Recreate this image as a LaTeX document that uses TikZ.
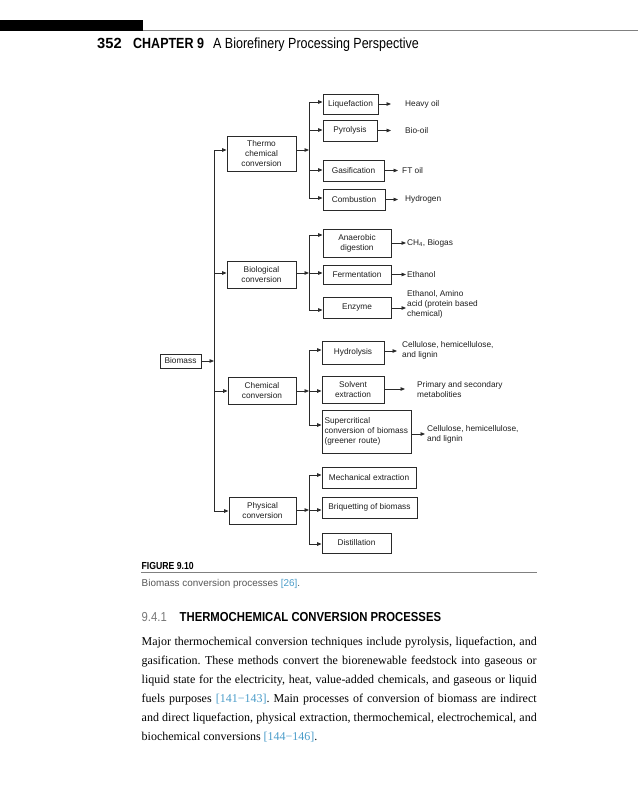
\documentclass[tikz,border=0pt]{standalone}
\usepackage{fontspec}
\usepackage{graphicx}
\setmainfont{Liberation Serif}
\setsansfont{Liberation Sans}
\usetikzlibrary{arrows.meta}
\definecolor{txt}{HTML}{1E1E1E}
\definecolor{ln}{HTML}{2A2A2A}
\definecolor{refblue}{HTML}{4A9CC9}
\definecolor{capgray}{HTML}{555555}
\definecolor{secgray}{HTML}{777777}
\frenchspacing
\begin{document}
\begin{tikzpicture}[x=1pt,y=-1pt,
  box/.style={draw=ln, line width=0.85pt, inner sep=0pt, font=\sffamily\fontsize{8.3}{10}\selectfont, text=txt, align=center},
  lbl/.style={anchor=west, inner sep=0pt, font=\sffamily\fontsize{8.3}{10}\selectfont, text=txt, align=left},
  arr/.style={draw=ln, line width=0.85pt, -{Triangle[length=4.5pt,width=3.6pt]}},
  trunk/.style={draw=ln, line width=0.85pt},
  body/.style={anchor=base west, inner sep=0pt, font=\fontsize{12}{15}\selectfont, text=black},
  hdr/.style={anchor=base west, inner sep=0pt, font=\sffamily\fontsize{14.7}{16}\selectfont}
]
\useasboundingbox (0,0) rectangle (638,787);

% ---------- page header ----------
\fill[black] (0,20) rectangle (143,31);
\draw[gray, line width=0.8pt] (143,30.6) -- (638,30.6);
\node[hdr] (pg) at (97,48) {\bfseries 352};
\node[hdr] (chap) at (133,48) {\bfseries\scalebox{0.85}[1]{CHAPTER 9}};
\node[hdr] (ttl) at (213,48) {\scalebox{0.85}[1]{A Biorefinery Processing Perspective}};

% ---------- diagram ----------
\node[box, minimum width=41pt, minimum height=14pt] (bio) at (180.5,361) {Biomass};

\node[box, minimum width=69pt, minimum height=35pt] (T) at (261.5,153.5) {Thermo\\chemical\\conversion};
\node[box, minimum width=69pt, minimum height=27pt] (B) at (261.5,274.5) {Biological\\conversion};
\node[box, minimum width=68pt, minimum height=27pt] (C) at (262,390.5) {Chemical\\conversion};
\node[box, minimum width=67pt, minimum height=27pt] (P) at (262.5,510.5) {Physical\\conversion};

\node[box, minimum width=55pt, minimum height=20pt] (liq) at (350.5,104) {Liquefaction};
\node[box, minimum width=54pt, minimum height=21pt] (pyr) at (350,130.5) {Pyrolysis};
\node[box, minimum width=61pt, minimum height=21pt] (gas) at (353.5,170.5) {Gasification};
\node[box, minimum width=62pt, minimum height=21pt] (comb) at (354,199.5) {Combustion};

\node[box, minimum width=68pt, minimum height=28pt] (ana) at (357,243) {Anaerobic\\digestion};
\node[box, minimum width=68pt, minimum height=19pt] (fer) at (357,274.5) {Fermentation};
\node[box, minimum width=68pt, minimum height=21pt] (enz) at (357,307.5) {Enzyme};

\node[box, minimum width=62pt, minimum height=23pt] (hyd) at (353,352.5) {Hydrolysis};
\node[box, minimum width=62pt, minimum height=27pt] (sol) at (353,389.5) {Solvent\\extraction};
\node[box, align=left, text width=84pt, inner xsep=2.5pt, minimum height=43pt] (sup) at (366.5,431.5) {Supercritical\\conversion of biomass\\(greener route)};

\node[box, minimum width=94pt, minimum height=21pt] (mec) at (369,477.5) {Mechanical extraction};
\node[box, minimum width=95pt, minimum height=21pt] (bri) at (369.5,507.5) {Briquetting of biomass};
\node[box, minimum width=69pt, minimum height=20pt] (dis) at (356.5,543) {Distillation};

% main trunk
\coordinate (k0) at (214,361);
\coordinate (kT) at (214,150);
\coordinate (kB) at (214,273);
\coordinate (kC) at (214,391);
\coordinate (kP) at (214,511);
\draw[trunk] (kT) -- (kP);
\draw[arr] (bio.east) -- (k0);
\draw[arr] (kT) -- (kT -| T.west);
\draw[arr] (kB) -- (kB -| B.west);
\draw[arr] (kC) -- (kC -| C.west);
\draw[arr] (kP) -- (kP -| P.west);

% thermo branch
\coordinate (vT) at (309,150);
\coordinate (t1) at (309,102);
\coordinate (t2) at (309,130);
\coordinate (t3) at (309,170);
\coordinate (t4) at (309,198);
\draw[trunk] (t1) -- (t4);
\draw[arr] (vT -| T.east) -- (vT);
\draw[arr] (t1) -- (t1 -| liq.west);
\draw[arr] (t2) -- (t2 -| pyr.west);
\draw[arr] (t3) -- (t3 -| gas.west);
\draw[arr] (t4) -- (t4 -| comb.west);

% biological branch
\coordinate (vB) at (309,273);
\coordinate (b1) at (309,235);
\coordinate (b3) at (309,310);
\draw[trunk] (b1) -- (b3);
\draw[arr] (vB -| B.east) -- (vB);
\draw[arr] (b1) -- (b1 -| ana.west);
\draw[arr] (vB) -- (vB -| fer.west);
\draw[arr] (b3) -- (b3 -| enz.west);

% chemical branch
\coordinate (vC) at (309,391);
\coordinate (c1) at (309,350);
\coordinate (c3) at (309,425);
\draw[trunk] (c1) -- (c3);
\draw[arr] (vC -| C.east) -- (vC);
\draw[arr] (c1) -- (c1 -| hyd.west);
\draw[arr] (vC) -- (vC -| sol.west);
\draw[arr] (c3) -- (c3 -| sup.west);

% physical branch
\coordinate (vP) at (309,510);
\coordinate (p1) at (309,475);
\coordinate (p3) at (309,544);
\draw[trunk] (p1) -- (p3);
\draw[arr] (vP -| P.east) -- (vP);
\draw[arr] (p1) -- (p1 -| mec.west);
\draw[arr] (vP) -- (vP -| bri.west);
\draw[arr] (p3) -- (p3 -| dis.west);

% outputs
\coordinate (o1) at (391,104);
\coordinate (o2) at (391,130.5);
\coordinate (o3) at (398,170.5);
\coordinate (o4) at (398,199.5);
\coordinate (o5) at (406,243);
\coordinate (o6) at (406,274.5);
\coordinate (o7) at (406,308);
\coordinate (o8) at (397,351);
\coordinate (o9) at (405,389);
\coordinate (o10) at (425,434);
\draw[arr] (o1 -| liq.east) -- (o1);
\draw[arr] (o2 -| pyr.east) -- (o2);
\draw[arr] (o3 -| gas.east) -- (o3);
\draw[arr] (o4 -| comb.east) -- (o4);
\draw[arr] (o5 -| ana.east) -- (o5);
\draw[arr] (o6 -| fer.east) -- (o6);
\draw[arr] (o7 -| enz.east) -- (o7);
\draw[arr] (o8 -| hyd.east) -- (o8);
\draw[arr] (o9 -| sol.east) -- (o9);
\draw[arr] (o10 -| sup.east) -- (o10);

\node[lbl] (r1) at (405,104) {Heavy oil};
\node[lbl] (r2) at (405,130.5) {Bio-oil};
\node[lbl] (r3) at (402,170.5) {FT oil};
\node[lbl] (r4) at (405,199.5) {Hydrogen};
\node[lbl] (r5) at (407,243) {CH\textsubscript{4}, Biogas};
\node[lbl] (r6) at (407,274.5) {Ethanol};
\node[lbl] (r7) at (407,304) {Ethanol, Amino\\acid (protein based\\chemical)};
\node[lbl] (r8) at (402,350) {Cellulose, hemicellulose,\\and lignin};
\node[lbl] (r9) at (417,390) {Primary and secondary\\metabolities};
\node[lbl] (r10) at (427,434) {Cellulose, hemicellulose,\\and lignin};

% ---------- caption ----------
\node[anchor=base west, inner sep=0pt, font=\sffamily\bfseries\fontsize{10.2}{12}\selectfont] (fig) at (141.5,569) {\scalebox{0.85}[1]{FIGURE 9.10}};
\draw[gray, line width=0.6pt] (141,572.5) -- (537,572.5);
\node[anchor=base west, inner sep=0pt, font=\sffamily\fontsize{9.9}{12}\selectfont, text=capgray] (cap) at (141.5,586) {Biomass conversion processes \textcolor{refblue}{[26]}.};

% ---------- section heading ----------
\node[anchor=base west, inner sep=0pt, font=\sffamily\fontsize{13}{15}\selectfont, text=secgray] (secn) at (141.5,621.5) {\scalebox{0.87}[1]{9.4.1}};
\node[anchor=base west, inner sep=0pt, font=\sffamily\bfseries\fontsize{13}{15}\selectfont] (sect) at (179.5,621.5) {\scalebox{0.87}[1]{THERMOCHEMICAL CONVERSION PROCESSES}};

% ---------- body text ----------
\node[body] (l1) at (141.5,645) {\makebox[395pt][s]{Major thermochemical conversion techniques include pyrolysis, liquefaction, and}};
\node[body] (l2) at (141.5,664) {\makebox[395pt][s]{gasification. These methods convert the biorenewable feedstock into gaseous or}};
\node[body] (l3) at (141.5,683) {\makebox[395pt][s]{liquid state for the electricity, heat, value-added chemicals, and gaseous or liquid}};
\node[body] (l4) at (141.5,702) {\makebox[395pt][s]{fuels purposes \textcolor{refblue}{[141−143]}. Main processes of conversion of biomass are indirect}};
\node[body] (l5) at (141.5,721) {\makebox[395pt][s]{and direct liquefaction, physical extraction, thermochemical, electrochemical, and}};
\node[body] (l6) at (141.5,740) {biochemical conversions \textcolor{refblue}{[144−146]}.};
\end{tikzpicture}
\end{document}
